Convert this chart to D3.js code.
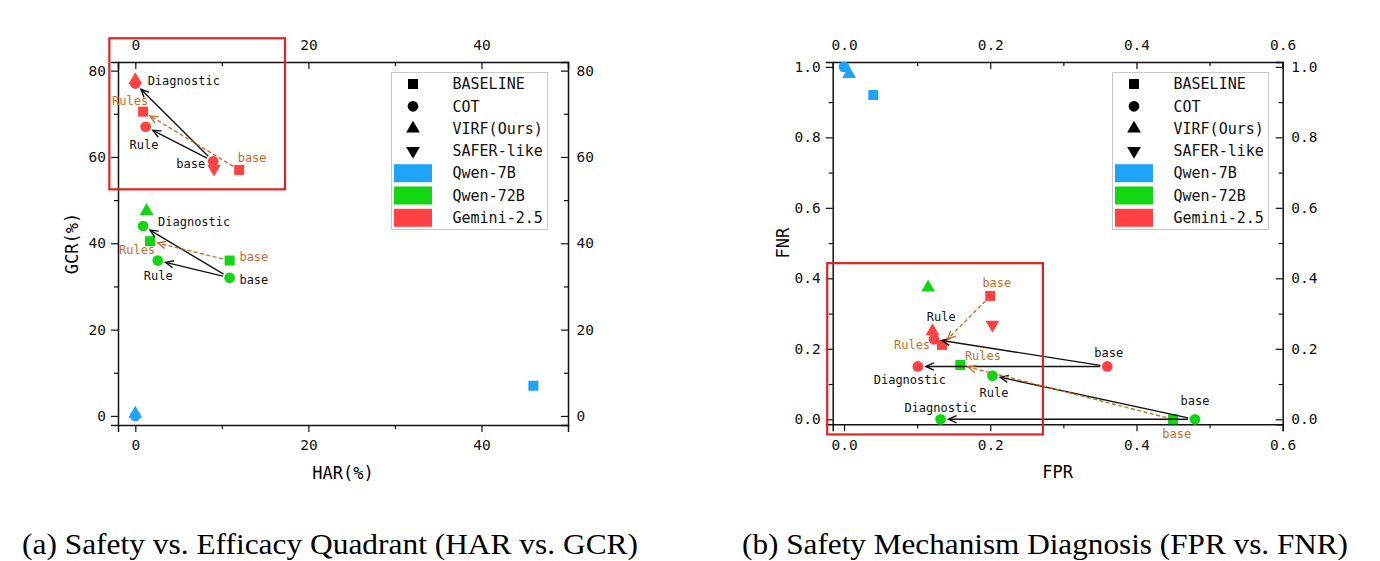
<!DOCTYPE html>
<html>
<head>
<meta charset="utf-8">
<script src="https://cdn.jsdelivr.net/npm/d3@7"></script>
<style>
  body { margin: 0; background: #fff; }
  text { font-family: "DejaVu Sans Mono", monospace; }
</style>
</head>
<body>
<div id="chart"></div>
<script>
// data ------------------------------------------------------------------------------

var models = ["Qwen-7B", "Qwen-72B", "Gemini-2.5"];
var modelColors = ["#1ea4f7", "#13d613", "#ff4141"];
var methods = ["BASELINE", "COT", "VIRF(Ours)", "SAFER-like"];

// [method, tag, HAR, GCR]
var hgQwen7 = [["COT", "cot", 0, 0], ["VIRF(Ours)", "virf", 0, 0.5], ["BASELINE", "base", 46, 7]];
var hgQwen72 = [["VIRF(Ours)", "virf", 1.3, 47.5], ["COT", "cotDiag", 0.9, 44], ["BASELINE", "rules", 1.7, 40.5],
  ["COT", "cotRule", 2.6, 36], ["BASELINE", "base", 10.9, 36], ["COT", "cotBase", 10.9, 32]];
var hgGemini = [["VIRF(Ours)", "virf", 0, 77.8], ["COT", "cotDiag", 0, 77], ["BASELINE", "rules", 0.9, 70.5],
  ["COT", "cotRule", 1.2, 67], ["COT", "cotBase", 9, 59], ["SAFER-like", "safer", 9.1, 57.3], ["BASELINE", "base", 12, 57]];

// [method, tag, FPR, FNR]
var fnQwen7 = [["COT", "cot", 0, 1.0], ["VIRF(Ours)", "virf", 0.007, 0.98], ["BASELINE", "base", 0.04, 0.92]];
var fnQwen72 = [["VIRF(Ours)", "virf", 0.115, 0.374], ["BASELINE", "rules", 0.159, 0.154], ["COT", "cotRule", 0.203, 0.124],
  ["COT", "cotDiag", 0.132, 0], ["BASELINE", "base", 0.45, 0], ["COT", "cotBase", 0.48, 0]];
var fnGemini = [["BASELINE", "base", 0.2, 0.35], ["SAFER-like", "safer", 0.203, 0.268], ["VIRF(Ours)", "virf", 0.121, 0.25],
  ["COT", "cotRule", 0.123, 0.227], ["BASELINE", "rules", 0.134, 0.211], ["COT", "cotDiag", 0.101, 0.15], ["COT", "cotBase", 0.36, 0.15]];

// [model index, from tag, to tag, style]
var hgArrows = [[2, "cotBase", "cotDiag", "solid"], [2, "cotBase", "cotRule", "solid"], [2, "base", "rules", "dash"],
  [1, "cotBase", "cotDiag", "solid"], [1, "cotBase", "cotRule", "solid"], [1, "base", "rules", "dash"]];
var fnArrows = [[2, "cotBase", "cotRule", "solid"], [2, "cotBase", "cotDiag", "solid"], [2, "base", "rules", "dash"],
  [1, "cotBase", "cotRule", "solid"], [1, "cotBase", "cotDiag", "solid"], [1, "base", "rules", "dash"]];

// [text, x, y, style]
var hgLabels = [["Diagnostic", 5.6, 77.7, "solid"], ["Rules", -0.6, 73.0, "dash"], ["Rule", 1.0, 62.8, "solid"],
  ["base", 6.4, 58.4, "solid"], ["base", 13.5, 59.7, "dash"],
  ["Diagnostic", 6.8, 44.9, "solid"], ["Rules", 0.2, 38.5, "dash"], ["Rule", 2.65, 32.4, "solid"],
  ["base", 13.7, 36.9, "dash"], ["base", 13.7, 31.5, "solid"]];
var fnLabels = [["base", 0.209, 0.386, "dash"], ["Rule", 0.133, 0.29, "solid"], ["Rules", 0.093, 0.211, "dash"],
  ["Diagnostic", 0.09, 0.112, "solid"], ["Rules", 0.19, 0.18, "dash"], ["Rule", 0.205, 0.076, "solid"],
  ["Diagnostic", 0.132, 0.034, "solid"], ["base", 0.362, 0.1875, "solid"], ["base", 0.48, 0.052, "solid"],
  ["base", 0.455, -0.04, "dash"]];

var harTicks = [0, 20, 40], harMinor = [10, 30];
var gcrTicks = [0, 20, 40, 60, 80], gcrMinor = [10, 30, 50, 70];
var fprTicks = [0, 0.2, 0.4, 0.6], fprMinor = [0.1, 0.3, 0.5];
var fnrTicks = [0, 0.2, 0.4, 0.6, 0.8, 1.0], fnrMinor = [0.1, 0.3, 0.5, 0.7, 0.9];

// [x0, x1, y0, y1] in data units
var hgBox = [-3, 17.3, 52.5, 87.5];
var fnBox = [-0.023, 0.272, -0.043, 0.443];

// drawing ---------------------------------------------------------------------------

var svg = d3.select("#chart").append("svg")
  .attr("width", 1380)
  .attr("height", 561);

var orange = "#c96d2c";

function symbolFor(method) {
  if (method == "BASELINE") return d3.symbol().type(d3.symbolSquare).size(100)();
  if (method == "COT") return d3.symbol().type(d3.symbolCircle).size(90)();
  return d3.symbol().type(d3.symbolTriangle).size(82)();
}

function drawPanel(o) {
  var x = d3.scaleLinear().domain(o.xDomain).range([o.left, o.right]);
  var y = d3.scaleLinear().domain(o.yDomain).range([o.bottom, o.top]);
  var fmt = o.fmt;

  var axes = [
    [d3.axisBottom(x).tickValues(o.xTicks).tickSize(7).tickPadding(8).tickFormat(fmt), "translate(0," + o.bottom + ")", d3.axisBottom(x).tickValues(o.xMinor).tickSize(4).tickFormat("")],
    [d3.axisTop(x).tickValues(o.xTicks).tickSize(-7).tickPadding(12).tickFormat(fmt), "translate(0," + o.top + ")", d3.axisTop(x).tickValues(o.xMinor).tickSize(-4).tickFormat("")],
    [d3.axisLeft(y).tickValues(o.yTicks).tickSize(7).tickPadding(5).tickFormat(fmt), "translate(" + o.left + ",0)", d3.axisLeft(y).tickValues(o.yMinor).tickSize(4).tickFormat("")],
    [d3.axisRight(y).tickValues(o.yTicks).tickSize(-7).tickPadding(8.5).tickFormat(fmt), "translate(" + o.right + ",0)", d3.axisRight(y).tickValues(o.yMinor).tickSize(-4).tickFormat("")]
  ];
  axes.forEach(function(a) {
    var g = svg.append("g").attr("transform", a[1]).call(a[0]);
    g.append("g").call(a[2]);
    g.selectAll(".domain").attr("stroke", "#111").attr("stroke-width", 1.5);
    g.selectAll(".tick line").attr("stroke", "#111").attr("stroke-width", 1.2);
    g.selectAll(".tick text").attr("fill", "#111")
      .style("font-family", "'DejaVu Sans Mono', monospace").style("font-size", "14.5px");
    g.selectAll("g g .domain").remove();
  });

  // axis titles
  svg.append("text")
    .attr("x", (o.left + o.right) / 2).attr("y", o.bottom + 54)
    .attr("text-anchor", "middle").style("font-size", "17px")
    .text(o.xTitle);
  svg.append("text")
    .attr("transform", "translate(" + o.yTitleX + "," + (o.top + o.bottom) / 2 + ") rotate(-90)")
    .attr("text-anchor", "middle").attr("dy", "0.35em").style("font-size", "17px")
    .text(o.yTitle);

  // points
  var lookup = {};
  o.series.forEach(function(pts, mi) {
    lookup[mi] = {};
    pts.forEach(function(p) {
      lookup[mi][p[1]] = p;
      svg.append("path")
        .attr("d", symbolFor(p[0]))
        .attr("transform", "translate(" + x(p[2]) + "," + y(p[3]) + ")" + (p[0] == "SAFER-like" ? " rotate(180)" : ""))
        .attr("fill", modelColors[mi]);
    });
  });

  // arrows
  o.arrows.forEach(function(a) {
    var p = lookup[a[0]][a[1]], q = lookup[a[0]][a[2]];
    var x1 = x(p[2]), y1 = y(p[3]), x2 = x(q[2]), y2 = y(q[3]);
    var len = Math.hypot(x2 - x1, y2 - y1);
    var ux = (x2 - x1) / len, uy = (y2 - y1) / len;
    var sx = x1 + ux * 7, sy = y1 + uy * 7;
    var ex = x2 - ux * 8, ey = y2 - uy * 8;
    var col = a[3] == "dash" ? orange : "#111";
    svg.append("line")
      .attr("x1", sx).attr("y1", sy).attr("x2", ex).attr("y2", ey)
      .attr("stroke", col).attr("stroke-width", 1.4)
      .attr("stroke-dasharray", a[3] == "dash" ? "4,2.5" : null);
    var hl = 8, hw = 3.6;
    var px = -uy, py = ux;
    svg.append("path")
      .attr("d", "M" + (ex - ux * hl + px * hw) + "," + (ey - uy * hl + py * hw) +
        "L" + ex + "," + ey +
        "L" + (ex - ux * hl - px * hw) + "," + (ey - uy * hl - py * hw))
      .attr("fill", "none").attr("stroke", col).attr("stroke-width", 1.4);
  });

  // labels
  o.labels.forEach(function(l) {
    svg.append("text")
      .attr("x", x(l[1])).attr("y", y(l[2]))
      .attr("text-anchor", "middle").attr("dy", "0.35em")
      .attr("fill", l[3] == "dash" ? orange : "#111")
      .style("font-size", "12px")
      .text(l[0]);
  });

  // highlight box
  svg.append("rect")
    .attr("x", x(o.box[0])).attr("y", y(o.box[3]))
    .attr("width", x(o.box[1]) - x(o.box[0]))
    .attr("height", y(o.box[2]) - y(o.box[3]))
    .attr("fill", "none").attr("stroke", "#e02424").attr("stroke-width", 2.2);

  // legend
  var lg = svg.append("g").attr("transform", "translate(" + o.legendX + ",72.5)");
  lg.append("rect").attr("width", 156).attr("height", 157)
    .attr("fill", "#fff").attr("stroke", "#c8c8c8").attr("stroke-width", 1);
  var rows = methods.concat(models);
  rows.forEach(function(r, i) {
    var cy = 11.5 + i * 22.3;
    if (i < 4) {
      lg.append("path").attr("d", symbolFor(r))
        .attr("transform", "translate(21.5," + cy + ")" + (r == "SAFER-like" ? " rotate(180)" : ""))
        .attr("fill", "#000");
    } else {
      lg.append("rect").attr("x", 2.5).attr("y", cy - 9).attr("width", 38).attr("height", 18)
        .attr("fill", modelColors[i - 4]);
    }
    lg.append("text").attr("x", 61).attr("y", cy).attr("dy", "0.35em")
      .style("font-size", "15px").attr("fill", "#111").text(r);
  });
}

drawPanel({
  left: 118, right: 568, top: 62, bottom: 425,
  xDomain: [-2, 50], yDomain: [-2.1, 82],
  xTicks: harTicks, xMinor: harMinor, yTicks: gcrTicks, yMinor: gcrMinor,
  fmt: d3.format("d"),
  xTitle: "HAR(%)", yTitle: "GCR(%)", yTitleX: 72,
  series: [hgQwen7, hgQwen72, hgGemini],
  arrows: hgArrows, labels: hgLabels, box: hgBox,
  legendX: 391.5
});

drawPanel({
  left: 832.7, right: 1282.7, top: 62, bottom: 424.3,
  xDomain: [-0.0155, 0.6], yDomain: [-0.0142, 1.0138],
  xTicks: fprTicks, xMinor: fprMinor, yTicks: fnrTicks, yMinor: fnrMinor,
  fmt: d3.format(".1f"),
  xTitle: "FPR", yTitle: "FNR", yTitleX: 783,
  series: [fnQwen7, fnQwen72, fnGemini],
  arrows: fnArrows, labels: fnLabels, box: fnBox,
  legendX: 1112.5
});

// captions
var captions = [["(a) Safety vs. Efficacy Quadrant (HAR vs. GCR)", 22, 616],
  ["(b) Safety Mechanism Diagnosis (FPR vs. FNR)", 742, 606]];
captions.forEach(function(c) {
  svg.append("text")
    .attr("x", c[1]).attr("y", 554)
    .attr("textLength", c[2]).attr("lengthAdjust", "spacingAndGlyphs")
    .style("font-family", "'Liberation Serif', 'Times New Roman', serif")
    .style("font-size", "30px").attr("fill", "#000")
    .text(c[0]);
});
</script>
</body>
</html>
